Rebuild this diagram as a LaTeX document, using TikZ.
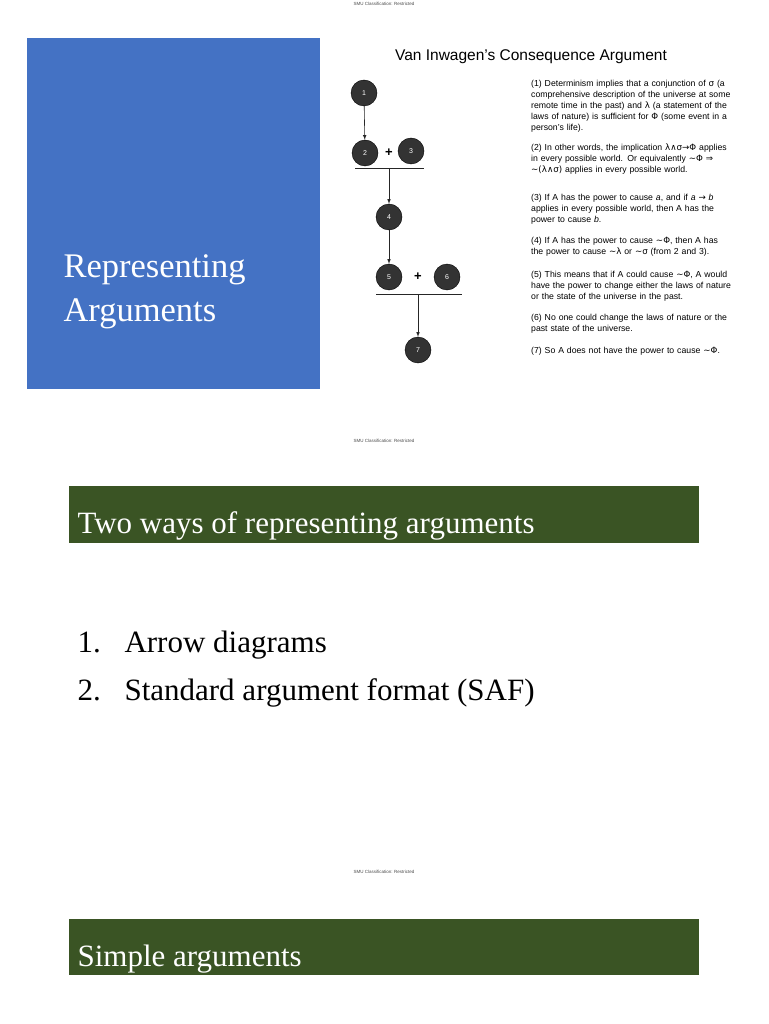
\documentclass[tikz,border=0pt]{standalone}
\usepackage{fontspec}
\setmainfont{Liberation Serif}
\setsansfont{Liberation Sans}
\newfontfamily\dejavu{DejaVu Sans}
\begin{document}
\begin{tikzpicture}[x=1pt,y=-1pt,
  dot/.style={circle,fill=black!80,draw=black,minimum size=26pt,inner sep=0pt,text=white,font=\sffamily\fontsize{7}{8}\selectfont},
  itm/.style={anchor=north west,text width=200pt,align=left,inner sep=0pt,font=\sffamily\fontsize{8.7}{11}\selectfont,execute at begin node={\hyphenpenalty=10000 \exhyphenpenalty=10000 }},
  arr/.style={-latex,black!85,line width=0.6pt},
  bar/.style={black!85,line width=0.8pt},
  cls/.style={font=\sffamily\fontsize{4.5}{5}\selectfont,text=black!70},
  bantext/.style={anchor=base west,text=white,font=\fontsize{31}{33}\selectfont},
  lst/.style={anchor=base west,font=\fontsize{31}{33}\selectfont}]
\definecolor{blu}{HTML}{4472C4}
\definecolor{ban}{HTML}{3A5424}
\useasboundingbox (0,0) rectangle (768,1024);
\fill[white] (0,0) rectangle (768,1024);
\node[cls] (c1) at (384,4) {SMU Classification: Restricted};
\node[cls] (c2) at (384,441) {SMU Classification: Restricted};
\node[cls] (c3) at (384,872) {SMU Classification: Restricted};
\fill[blu] (27,38) rectangle (320,389);
\node[anchor=base west,text=white,font=\fontsize{34.5}{36}\selectfont] (rep1) at (60,277) {Representing};
\node[anchor=base west,text=white,font=\fontsize{34.5}{36}\selectfont] (rep2) at (60,321) {Arguments};
\node[font=\sffamily\fontsize{15.5}{18}\selectfont] (title) at (531,57) {Van Inwagen’s Consequence Argument};
\node[dot] (n1) at (364,93) {1};
\node[dot] (n2) at (365,153) {2};
\node[dot] (n3) at (411,151) {3};
\node[font=\sffamily\bfseries\fontsize{13}{13}\selectfont] (p1) at (389,153) {+};
\coordinate (b1l) at (355,168); \coordinate (b1r) at (424,168); \coordinate (b1m) at (389,168);
\draw[bar] (b1l) -- (b1r);
\node[dot] (n4) at (389,217) {4};
\node[dot] (n5) at (389,277) {5};
\node[dot] (n6) at (447,277) {6};
\node[font=\sffamily\bfseries\fontsize{13}{13}\selectfont] (p2) at (418,277) {+};
\coordinate (b2l) at (376,294); \coordinate (b2r) at (462,294); \coordinate (b2m) at (418,294);
\draw[bar] (b2l) -- (b2r);
\node[dot] (n7) at (418,350) {7};
\draw[arr] (n1) -- (n2);
\draw[arr] (b1m) -- (n4);
\draw[arr] (n4) -- (n5);
\draw[arr] (b2m) -- (n7);
\node[itm] (t1) at (531,80) {(1) Determinism implies that a conjunction of {\dejavu σ} (a comprehensive description of the universe at some remote time in the past) and {\dejavu λ} (a statement of the laws of nature) is sufficient for {\dejavu Φ} (some event in a person’s life).};
\node[itm] (t2) at (531,144) {(2) In other words, the implication {\dejavu λ∧σ→Φ} applies in every possible world. Or equivalently {\dejavu ∼Φ ⇒ ∼(λ∧σ)} applies in every possible world.};
\node[itm] (t3) at (531,194) {(3) If A has the power to cause \emph{a}, and if \emph{a} {\dejavu →} \emph{b} applies in every possible world, then A has the power to cause \emph{b}.};
\node[itm] (t4) at (531,237) {(4) If A has the power to cause {\dejavu ∼Φ}, then A has the power to cause {\dejavu ∼λ} or {\dejavu ∼σ} (from 2 and 3).};
\node[itm] (t5) at (531,271) {(5) This means that if A could cause {\dejavu ∼Φ}, A would have the power to change either the laws of nature or the state of the universe in the past.};
\node[itm] (t6) at (531,314) {(6) No one could change the laws of nature or the past state of the universe.};
\node[itm] (t7) at (531,347) {(7) So A does not have the power to cause {\dejavu ∼Φ}.};
\fill[ban] (69,486) rectangle (699,543);
\node[bantext] (h1) at (74,533) {Two ways of representing arguments};
\node[lst] (l1n) at (74,652) {1.};
\node[lst] (l1) at (121,652) {Arrow diagrams};
\node[lst] (l2n) at (74,700) {2.};
\node[lst] (l2) at (121,700) {Standard argument format (SAF)};
\fill[ban] (69,919) rectangle (699,975);
\node[bantext] (h2) at (74,966) {Simple arguments};
\end{tikzpicture}
\end{document}
